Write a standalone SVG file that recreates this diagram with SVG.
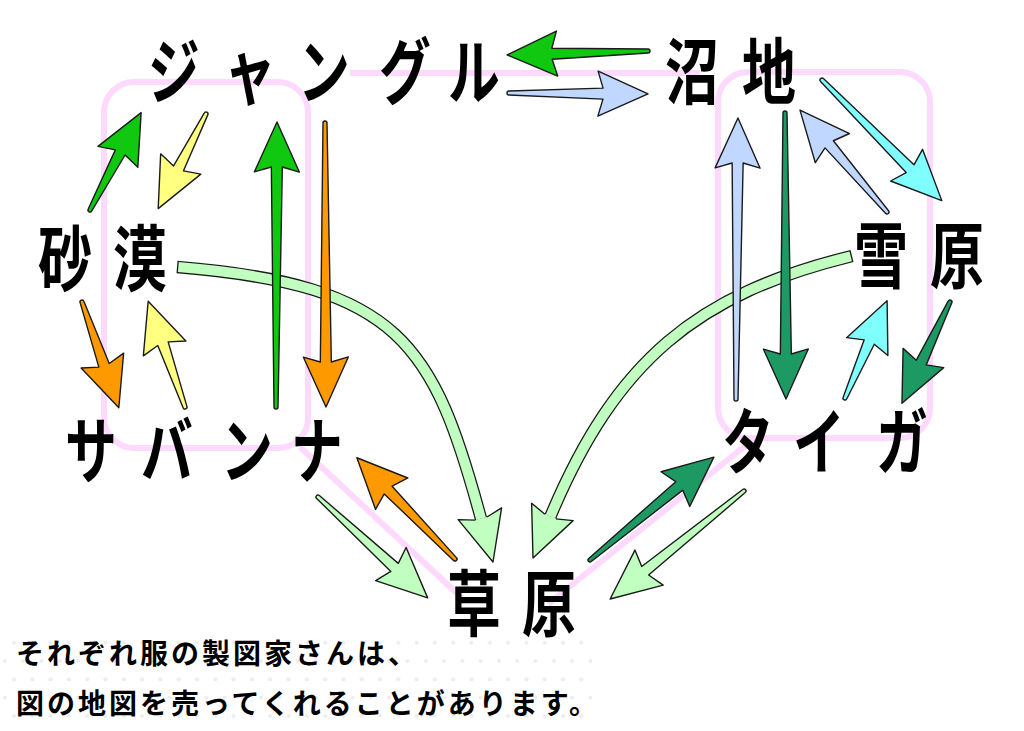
<svg xmlns="http://www.w3.org/2000/svg" width="1024" height="731" viewBox="0 0 1024 731">
<defs>
<pattern id="dots" patternUnits="userSpaceOnUse" x="4.85" y="633.55" width="18.3" height="36.6">
<circle cx="9.15" cy="9.15" r="2" fill="#ececec"/>
<circle cx="0" cy="27.45" r="2" fill="#ececec"/>
<circle cx="18.3" cy="27.45" r="2" fill="#ececec"/>
</pattern>
</defs>
<style>
.pink{fill:none;stroke:#fdd9fd;stroke-width:6}
.ar{stroke:#1a1a1a;stroke-width:1.4;stroke-linejoin:round}
.g{fill:#10c810}.lb{fill:#c0d8ff}.y{fill:#ffff80}.o{fill:#ff9900}.dg{fill:#1d9964}.c{fill:#80ffff}.lg{fill:#c0ffc0}
.bandk{fill:none;stroke:#1a1a1a;stroke-width:12.5}
.bandg{fill:none;stroke:#c0ffc0;stroke-width:10;stroke-dasharray:0 1.3 3000}
.lbl{font-family:"Noto Sans CJK JP","Noto Sans CJK SC",sans-serif;font-weight:700;font-size:72px;fill:#000;text-anchor:middle}
.cap{font-family:"Noto Sans CJK JP","Noto Sans CJK SC",sans-serif;font-weight:700;font-size:28px;fill:#000;letter-spacing:3px}
</style>
<rect width="1024" height="731" fill="#fff"/>
<g id="background">
<rect x="0" y="634" width="592" height="97" fill="url(#dots)"/>
<rect class="pink" x="104" y="82" width="204" height="366" rx="30"/>
<rect class="pink" x="718" y="72" width="212" height="366" rx="30"/>
<line class="pink" x1="350" y1="73" x2="700" y2="73"/>
<line class="pink" x1="300" y1="447" x2="462" y2="598"/>
<line class="pink" x1="548" y1="604" x2="745" y2="446"/>
</g>
<g id="connectors">
<path class="bandk" d="M177,267 C400,285 433.8,344.3 481,518.6"/>
<path class="bandg" d="M177,267 C400,285 433.8,344.3 481,518.6"/>
<path class="ar lg" transform="translate(493,562) rotate(74.8)" d="M-45,-6 L-50,-22.5 L0,0 L-50,22.5 L-45,6"/>
<path class="bandk" d="M852,256 C697,294 616.2,359.8 550.4,516.5"/>
<path class="bandg" d="M852,256 C697,294 616.2,359.8 550.4,516.5"/>
<path class="ar lg" transform="translate(533,558) rotate(112.8)" d="M-45,-6 L-50,-22.5 L0,0 L-50,22.5 L-45,6"/>

<path class="ar g" transform="translate(648,51) rotate(178.4)" d="M0,-2 L96,-5.5 L91,-22.5 L141,0 L91,22.5 L96,5.5 L0,2 A2,2 0 0 1 0,-2Z"/>
<path class="ar lb" transform="translate(509,93) rotate(0.4)" d="M0,-2 L94,-5.5 L89,-22.5 L139,0 L89,22.5 L94,5.5 L0,2 A2,2 0 0 1 0,-2Z"/>
<path class="ar g" transform="translate(90,210) rotate(-62.3)" d="M0,-2 L65,-5.5 L60,-22.5 L110,0 L60,22.5 L65,5.5 L0,2 A2,2 0 0 1 0,-2Z"/>
<path class="ar y" transform="translate(206,114) rotate(116.8)" d="M0,-2 L61,-5.5 L56,-22.5 L106,0 L56,22.5 L61,5.5 L0,2 A2,2 0 0 1 0,-2Z"/>
<path class="ar g" transform="translate(276,407) rotate(-89.8)" d="M0,-2 L240,-5.5 L235,-22.5 L285,0 L235,22.5 L240,5.5 L0,2 A2,2 0 0 1 0,-2Z"/>
<path class="ar o" transform="translate(325,123) rotate(89.8)" d="M0,-2 L239,-5.5 L234,-22.5 L284,0 L234,22.5 L239,5.5 L0,2 A2,2 0 0 1 0,-2Z"/>
<path class="ar o" transform="translate(82,302) rotate(70.8)" d="M0,-2 L67,-5.5 L62,-22.5 L112,0 L62,22.5 L67,5.5 L0,2 A2,2 0 0 1 0,-2Z"/>
<path class="ar y" transform="translate(185,407) rotate(-109.2)" d="M0,-2 L67,-5.5 L62,-22.5 L112,0 L62,22.5 L67,5.5 L0,2 A2,2 0 0 1 0,-2Z"/>
<path class="ar dg" transform="translate(785,113) rotate(89.8)" d="M0,-2 L241,-5.5 L236,-22.5 L286,0 L236,22.5 L241,5.5 L0,2 A2,2 0 0 1 0,-2Z"/>
<path class="ar lb" transform="translate(736,399) rotate(-89.6)" d="M0,-2 L236,-5.5 L231,-22.5 L281,0 L231,22.5 L236,5.5 L0,2 A2,2 0 0 1 0,-2Z"/>
<path class="ar lb" transform="translate(887,212) rotate(-130.5)" d="M0,-2 L89,-5.5 L84,-22.5 L134,0 L84,22.5 L89,5.5 L0,2 A2,2 0 0 1 0,-2Z"/>
<path class="ar c" transform="translate(822,80) rotate(45.2)" d="M0,-2 L125,-5.5 L120,-22.5 L170,0 L120,22.5 L125,5.5 L0,2 A2,2 0 0 1 0,-2Z"/>
<path class="ar c" transform="translate(845,398) rotate(-66.6)" d="M0,-2 L61,-5.5 L56,-22.5 L106,0 L56,22.5 L61,5.5 L0,2 A2,2 0 0 1 0,-2Z"/>
<path class="ar dg" transform="translate(950,302) rotate(115.4)" d="M0,-2 L67,-5.5 L62,-22.5 L112,0 L62,22.5 L67,5.5 L0,2 A2,2 0 0 1 0,-2Z"/>
<path class="ar lg" transform="translate(318,497) rotate(42.6)" d="M0,-2 L104,-5.5 L99,-22.5 L149,0 L99,22.5 L104,5.5 L0,2 A2,2 0 0 1 0,-2Z"/>
<path class="ar o" transform="translate(455,559) rotate(-134.1)" d="M0,-2 L96,-5.5 L91,-22.5 L141,0 L91,22.5 L96,5.5 L0,2 A2,2 0 0 1 0,-2Z"/>
<path class="ar dg" transform="translate(590,560) rotate(-39.7)" d="M0,-2 L116,-5.5 L111,-22.5 L161,0 L111,22.5 L116,5.5 L0,2 A2,2 0 0 1 0,-2Z"/>
<path class="ar lg" transform="translate(744,491) rotate(141.1)" d="M0,-2 L127,-5.5 L122,-22.5 L172,0 L122,22.5 L127,5.5 L0,2 A2,2 0 0 1 0,-2Z"/>
</g>
<g id="jungle">
<text class="lbl" transform="translate(174,98) scale(0.72,1)">ジ</text>
<text class="lbl" transform="translate(250,98) scale(0.72,1)">ャ</text>
<text class="lbl" transform="translate(324,98) scale(0.72,1)">ン</text>
<text class="lbl" transform="translate(405,98) scale(0.72,1)">グ</text>
<text class="lbl" transform="translate(474,98) scale(0.72,1)">ル</text>
</g>
<g id="swamp">
<text class="lbl" transform="translate(692,98) scale(0.75,1)">沼</text>
<text class="lbl" transform="translate(769,98) scale(0.75,1)">地</text>
</g>
<g id="desert">
<text class="lbl" transform="translate(65,285) scale(0.75,1)">砂</text>
<text class="lbl" transform="translate(140,285) scale(0.75,1)">漠</text>
</g>
<g id="snowfield">
<text class="lbl" transform="translate(881,282) scale(0.75,1)">雪</text>
<text class="lbl" transform="translate(957,282) scale(0.75,1)">原</text>
</g>
<g id="savanna">
<text class="lbl" transform="translate(91,477) scale(0.72,1)">サ</text>
<text class="lbl" transform="translate(167,477) scale(0.72,1)">バ</text>
<text class="lbl" transform="translate(247,477) scale(0.72,1)">ン</text>
<text class="lbl" transform="translate(317,477) scale(0.72,1)">ナ</text>
</g>
<g id="taiga">
<text class="lbl" transform="translate(748,468) scale(0.72,1)">タ</text>
<text class="lbl" transform="translate(819,468) scale(0.72,1)">イ</text>
<text class="lbl" transform="translate(902,468) scale(0.72,1)">ガ</text>
</g>
<g id="grassland">
<text class="lbl" transform="translate(474,630) scale(0.75,1)">草</text>
<text class="lbl" transform="translate(549,630) scale(0.75,1)">原</text>
</g>
<g id="caption">
<text class="cap" x="16" y="664">それぞれ服の製図家さんは、</text>
<text class="cap" x="16" y="714">図の地図を売ってくれることがあります。</text>
</g>
</svg>
